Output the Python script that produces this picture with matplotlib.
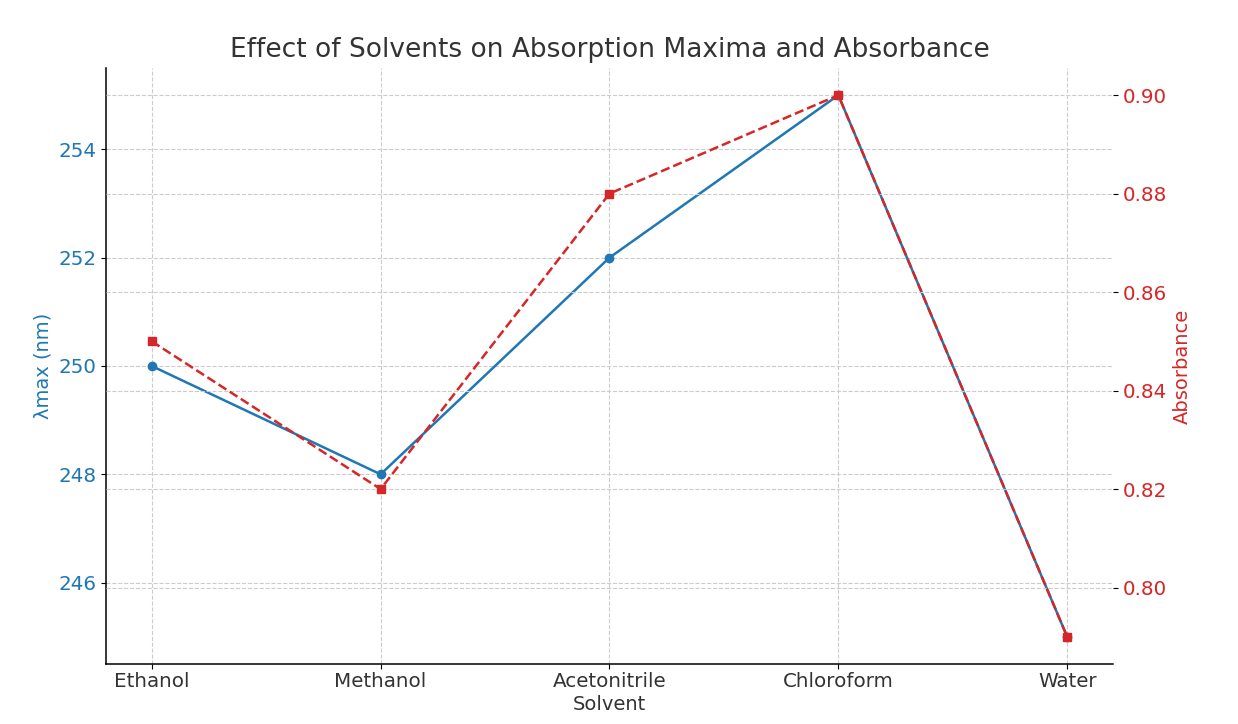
import numpy as np
import matplotlib.pyplot as plt

solvents = ['Ethanol', 'Methanol', 'Acetonitrile', 'Chloroform', 'Water']
lambda_max = [250, 248, 252, 255, 245]
absorbance = [0.85, 0.82, 0.88, 0.90, 0.79]

blue = '#1f77b4'
red = '#d62728'
text_c = '#333333'

fig, ax1 = plt.subplots(figsize=(12.38, 7.24), dpi=100)
fig.subplots_adjust(left=0.0856, right=0.899, top=0.906, bottom=0.083)

x = np.arange(len(solvents))
ax1.plot(x, lambda_max, color=blue, marker='o', markersize=6, linewidth=1.8)
ax1.set_xticks(x)
ax1.set_xticklabels(solvents)
ax1.set_xlabel('Solvent', fontsize=14, color=text_c, labelpad=3)
ax1.set_ylabel('λmax (nm)', fontsize=14, color=blue)
ax1.tick_params(axis='y', labelcolor=blue, labelsize=14.3)
ax1.tick_params(axis='x', labelsize=14.3, labelcolor=text_c, pad=2.5)
ax1.grid(True, linestyle='--', color='#cccccc', linewidth=0.8)
ax1.spines['top'].set_visible(False)
ax1.spines['right'].set_visible(False)
ax1.spines['left'].set_linewidth(1.1)
ax1.spines['bottom'].set_linewidth(1.1)

ax2 = ax1.twinx()
ax2.plot(x, absorbance, color=red, marker='s', markersize=6, linestyle='--', linewidth=1.8)
ax2.set_ylabel('Absorbance', fontsize=14, color=red)
ax2.tick_params(axis='y', labelcolor=red, labelsize=14.3)
ax2.grid(True, axis='y', linestyle='--', color='#cccccc', linewidth=0.8)
for s in ['top', 'right', 'left', 'bottom']:
    ax2.spines[s].set_visible(False)

ax1.set_title('Effect of Solvents on Absorption Maxima and Absorbance', fontsize=19, color=text_c, pad=8)

plt.savefig('out.png')
